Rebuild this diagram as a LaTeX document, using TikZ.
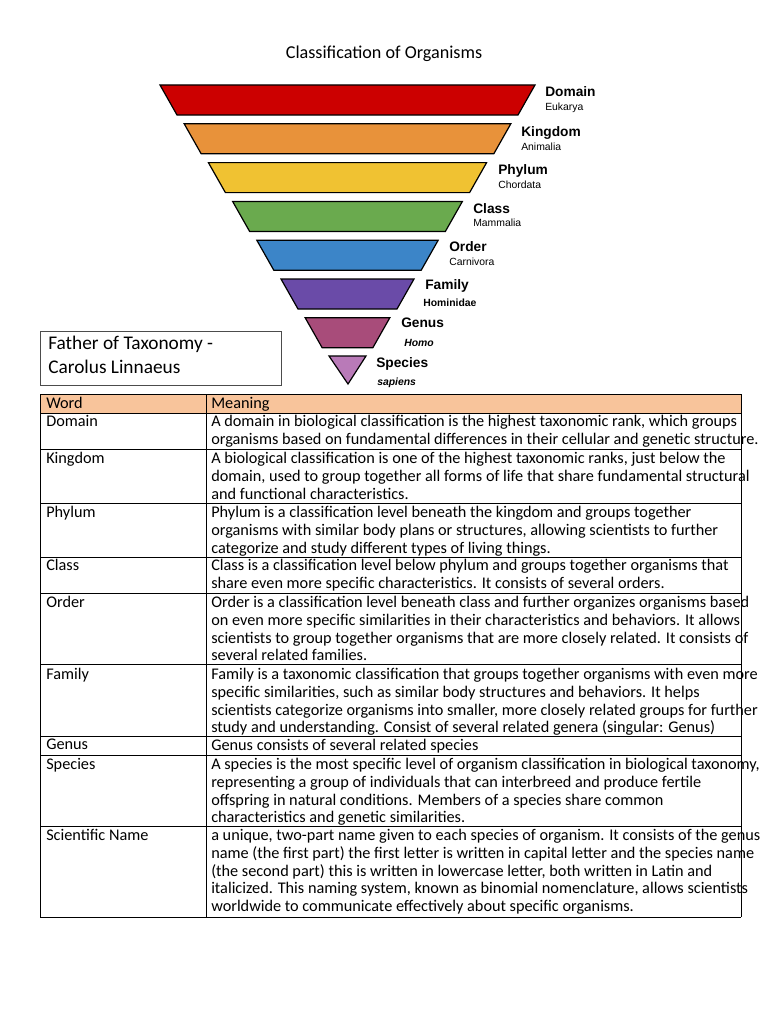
\documentclass[tikz,border=0pt]{standalone}
\usepackage{fontspec}
\setmainfont{Carlito}
\newfontfamily\lab{Liberation Sans}
\definecolor{cD}{HTML}{CC0000}
\definecolor{cK}{HTML}{E8923A}
\definecolor{cP}{HTML}{F0C232}
\definecolor{cC}{HTML}{6AAA4E}
\definecolor{cO}{HTML}{3C85C8}
\definecolor{cF}{HTML}{6A4BA8}
\definecolor{cG}{HTML}{A84C7A}
\definecolor{cS}{HTML}{B97AB8}
\definecolor{hdr}{HTML}{F8C49B}
\begin{document}
\begin{tikzpicture}[x=0.75pt,y=-0.75pt,
  band/.style={draw=black,line width=0.9pt},
  rk/.style={anchor=base west,inner sep=0,font=\lab\bfseries\fontsize{10.3}{11}\selectfont},
  sb/.style={anchor=base west,inner sep=0,font=\lab\fontsize{7.8}{9}\selectfont},
  cell/.style={anchor=north west,inner sep=0,align=left,font=\fontsize{12.2}{13.3}\selectfont},
  grid/.style={draw=black,line width=0.6pt}]
\useasboundingbox (0,0) rectangle (768,1024);
\node (title) at (384,54) {\fontsize{13.6}{15}\selectfont Classification of Organisms};
% pyramid
\foreach \i/\c in {0/cD,1/cK,2/cP,3/cC,4/cO,5/cF,6/cG}{
  \pgfmathsetmacro\t{85+38.8*\i}
  \pgfmathsetmacro\l{160+24.2*\i}
  \pgfmathsetmacro\r{535-24.2*\i}
  \filldraw[band,fill=\c] (\l,\t) -- (\r,\t) -- (\r-17,\t+30) -- (\l+17,\t+30) -- cycle;
}
\filldraw[band,fill=cS] (329,356) -- (366,356) -- (348,384) -- cycle;
\node[rk] (lD) at (545,96) {Domain};   \node[sb] (sD) at (545,110) {Eukarya};
\node[rk] (lK) at (521,136) {Kingdom};  \node[sb] (sK) at (521,150) {Animalia};
\node[rk] (lP) at (498,174) {Phylum};   \node[sb] (sP) at (498,188) {Chordata};
\node[rk] (lC) at (473,213) {Class};    \node[sb] (sC) at (473,226) {Mammalia};
\node[rk] (lO) at (449,251) {Order};    \node[sb] (sO) at (449,265) {Carnivora};
\node[rk] (lF) at (425,289) {Family};   \node[sb,font=\lab\bfseries\fontsize{7.8}{9}\selectfont] (sF) at (423,306) {Hominidae};
\node[rk] (lG) at (401,327) {Genus};    \node[sb,font=\lab\bfseries\itshape\fontsize{7.8}{9}\selectfont] (sG) at (404,346) {Homo};
\node[rk] (lS) at (376,367) {Species};  \node[sb,font=\lab\bfseries\itshape\fontsize{7.8}{9}\selectfont] (sS) at (377,385) {sapiens};
% father box
\node[draw=black!70,line width=0.6pt,minimum width=241*0.75pt,minimum height=54*0.75pt,anchor=north west,inner sep=0] (fb) at (40,331) {};
\node[anchor=north west,inner sep=0,align=left,font=\fontsize{14.5}{18}\selectfont] (ft) at (48,336) {Father of Taxonomy -\\Carolus Linnaeus};
% table
\fill[hdr] (40,394) rectangle (741,413);
\foreach \y in {394,413,449,503,557,593,664,736,755,826,917} \draw[grid] (40,\y) -- (741,\y);
\draw[grid] (40,394) -- (40,917);
\draw[grid] (206,394) -- (206,917);
\draw[grid] (741,394) -- (741,917);
\node[cell] (w0) at (46,397) {Word};
\node[cell] (m0) at (211,397) {Meaning};
\node[cell] (w1) at (46,415) {Domain};
\node[cell] (m1) at (211,415) {A domain in biological classification is the highest taxonomic rank, which groups\\organisms based on fundamental differences in their cellular and genetic structure.};
\node[cell] (w2) at (46,452) {Kingdom};
\node[cell] (m2) at (211,452) {A biological classification is one of the highest taxonomic ranks, just below the\\domain, used to group together all forms of life that share fundamental structural\\and functional characteristics.};
\node[cell] (w3) at (46,506) {Phylum};
\node[cell] (m3) at (211,506) {Phylum is a classification level beneath the kingdom and groups together\\organisms with similar body plans or structures, allowing scientists to further\\categorize and study different types of living things.};
\node[cell] (w4) at (46,559) {Class};
\node[cell] (m4) at (211,559) {Class is a classification level below phylum and groups together organisms that\\share even more specific characteristics. It consists of several orders.};
\node[cell] (w5) at (46,596) {Order};
\node[cell] (m5) at (211,596) {Order is a classification level beneath class and further organizes organisms based\\on even more specific similarities in their characteristics and behaviors. It allows\\scientists to group together organisms that are more closely related. It consists of\\several related families.};
\node[cell] (w6) at (46,668) {Family};
\node[cell] (m6) at (211,668) {Family is a taxonomic classification that groups together organisms with even more\\specific similarities, such as similar body structures and behaviors. It helps\\scientists categorize organisms into smaller, more closely related groups for further\\study and understanding. Consist of several related genera (singular: Genus)};
\node[cell] (w7) at (46,739) {Genus};
\node[cell] (m7) at (211,739) {Genus consists of several related species};
\node[cell] (w8) at (46,758) {Species};
\node[cell] (m8) at (211,758) {A species is the most specific level of organism classification in biological taxonomy,\\representing a group of individuals that can interbreed and produce fertile\\offspring in natural conditions. Members of a species share common\\characteristics and genetic similarities.};
\node[cell] (w9) at (46,829) {Scientific Name};
\node[cell] (m9) at (211,829) {a unique, two-part name given to each species of organism. It consists of the genus\\name (the first part) the first letter is written in capital letter and the species name\\(the second part) this is written in lowercase letter, both written in Latin and\\italicized. This naming system, known as binomial nomenclature, allows scientists\\worldwide to communicate effectively about specific organisms.};
\end{tikzpicture}
\end{document}
